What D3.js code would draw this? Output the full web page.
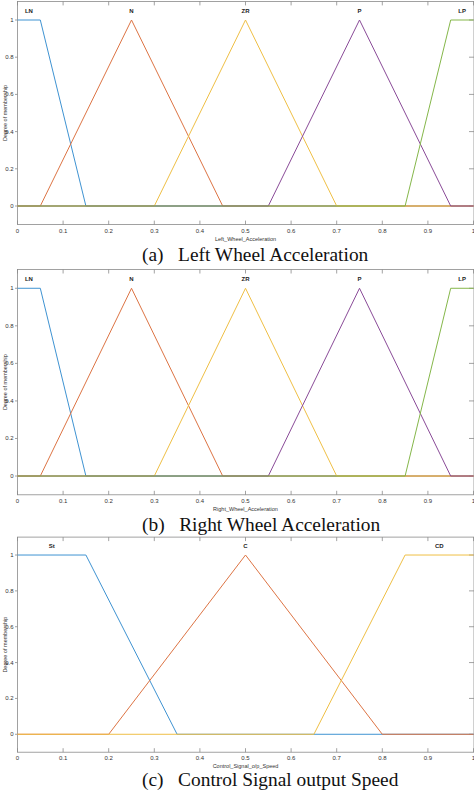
<!DOCTYPE html>
<html>
<head>
<meta charset="utf-8">
<script src="https://cdn.jsdelivr.net/npm/d3@7"></script>
<style>
  html, body { margin: 0; padding: 0; background: #fff; }
  svg { display: block; }
  .tick-label { font-family: "Liberation Sans", Arial, sans-serif; font-size: 6px; fill: #333; }
  .mf-label { font-family: "Liberation Sans", Arial, sans-serif; font-size: 6px; font-weight: bold; fill: #222; }
  .axis-title { font-family: "Liberation Sans", Arial, sans-serif; font-size: 5.5px; fill: #333; }
  .caption { font-family: "Liberation Serif", "Times New Roman", serif; font-size: 19.4px; fill: #111; }
</style>
</head>
<body>
<script>
(function(){
    "use strict";

    // membership functions
    var accelNames = ["LN", "N", "ZR", "P", "LP"];
    var accelTypes = ["trap", "tri", "tri", "tri", "trap"];
    var accelParams = [
        [-0.05, 0, 0.05, 0.15],
        [0.05, 0.25, 0.45],
        [0.3, 0.5, 0.7],
        [0.55, 0.75, 0.95],
        [0.85, 0.95, 1, 1.05]
    ];

    var speedNames = ["St", "C", "CD"];
    var speedTypes = ["trap", "tri", "trap"];
    var speedParams = [
        [-0.05, 0, 0.15, 0.35],
        [0.2, 0.5, 0.8],
        [0.65, 0.85, 1, 1.05]
    ];

    var xTicks = [0, 0.1, 0.2, 0.3, 0.4, 0.5, 0.6, 0.7, 0.8, 0.9, 1];
    var yTicks = [0, 0.2, 0.4, 0.6, 0.8, 1];
    var xTitles = ["Left_Wheel_Acceleration", "Right_Wheel_Acceleration", "Control_Signal_o/p_Speed"];
    var captions = ["(a)\u2002 Left Wheel Acceleration", "(b)\u2002 Right Wheel Acceleration", "(c)\u2002 Control Signal output Speed"];

    var colors = ["#3f93d2", "#dd7444", "#efbf45", "#8a4b98", "#85b74a"];

    var width = 474, height = 792;

    var panels = [
        { names: accelNames, types: accelTypes, params: accelParams, top: 1.4, bottom: 224.6, capY: 261.3, title: xTitles[0], caption: captions[0] },
        { names: accelNames, types: accelTypes, params: accelParams, top: 269.5, bottom: 494.8, capY: 531, title: xTitles[1], caption: captions[1] },
        { names: speedNames, types: speedTypes, params: speedParams, top: 537.1, bottom: 752.2, capY: 786, title: xTitles[2], caption: captions[2] }
    ];

    var svg = d3.select("body").append("svg")
        .attr("width", width)
        .attr("height", height);

    var x = d3.scaleLinear().domain([0, 1]).range([17.5, 473.5]);

    function membership(type, p, v) {
        if (type === "tri") {
            if (v <= p[0] || v >= p[2]) return 0;
            return v <= p[1] ? (v - p[0]) / (p[1] - p[0]) : (p[2] - v) / (p[2] - p[1]);
        }
        if (v <= p[0] || v >= p[3]) return 0;
        if (v < p[1]) return (v - p[0]) / (p[1] - p[0]);
        if (v <= p[2]) return 1;
        return (p[3] - v) / (p[3] - p[2]);
    }

    // vertices: the ends of the range plus every breakpoint inside it
    function vertices(type, p) {
        var xs = [0].concat(p.filter(function(d) { return d > 0 && d < 1; })).concat([1]);
        return xs.map(function(v) { return [v, membership(type, p, v)]; });
    }

    function labelX(type, p) {
        if (type === "tri") return p[1];
        return (Math.max(p[1], 0) + Math.min(p[2], 1)) / 2;
    }

    panels.forEach(function(panel) {
        var y = d3.scaleLinear().domain([-0.1, 1.1]).range([panel.bottom, panel.top]);
        var g = svg.append("g");
        var x0 = x.range()[0], x1 = 474;

        // box
        g.append("rect")
            .attr("x", x0)
            .attr("y", panel.top)
            .attr("width", x1 - x0)
            .attr("height", panel.bottom - panel.top)
            .attr("fill", "#fff")
            .attr("stroke", "#8a8a8a")
            .attr("stroke-width", 0.8);

        // ticks on all four sides
        g.selectAll(".xb").data(xTicks).enter().append("line")
            .attr("x1", function(d) { return x(d); }).attr("x2", function(d) { return x(d); })
            .attr("y1", panel.bottom).attr("y2", panel.bottom - 4)
            .attr("stroke", "#8a8a8a").attr("stroke-width", 0.8);
        g.selectAll(".xt").data(xTicks).enter().append("line")
            .attr("x1", function(d) { return x(d); }).attr("x2", function(d) { return x(d); })
            .attr("y1", panel.top).attr("y2", panel.top + 4)
            .attr("stroke", "#8a8a8a").attr("stroke-width", 0.8);
        g.selectAll(".yl").data(yTicks).enter().append("line")
            .attr("x1", x0 - 2.5).attr("x2", x0)
            .attr("y1", function(d) { return y(d); }).attr("y2", function(d) { return y(d); })
            .attr("stroke", "#8a8a8a").attr("stroke-width", 0.8);
        g.selectAll(".yr").data(yTicks).enter().append("line")
            .attr("x1", x1 - 5).attr("x2", x1)
            .attr("y1", function(d) { return y(d); }).attr("y2", function(d) { return y(d); })
            .attr("stroke", "#8a8a8a").attr("stroke-width", 0.8);

        // tick labels
        g.selectAll(".xl").data(xTicks).enter().append("text")
            .attr("class", "tick-label")
            .attr("x", function(d) { return x(d); })
            .attr("y", panel.bottom + 8)
            .attr("text-anchor", "middle")
            .text(function(d) { return d3.format("")(d); });
        g.selectAll(".yt").data(yTicks).enter().append("text")
            .attr("class", "tick-label")
            .attr("x", x0 - 4)
            .attr("y", function(d) { return y(d) + 2; })
            .attr("text-anchor", "end")
            .text(function(d) { return d3.format("")(d); });

        // axis titles
        g.append("text")
            .attr("class", "axis-title")
            .attr("x", x(0.5))
            .attr("y", panel.bottom + 16)
            .attr("text-anchor", "middle")
            .text(panel.title);
        g.append("text")
            .attr("class", "axis-title")
            .attr("transform", "translate(7," + y(0.5) + ") rotate(-90)")
            .attr("text-anchor", "middle")
            .text("Degree of membership");

        // membership curves
        var line = d3.line()
            .x(function(d) { return x(d[0]); })
            .y(function(d) { return y(d[1]); });

        panel.params.forEach(function(p, i) {
            g.append("path")
                .attr("d", line(vertices(panel.types[i], p)))
                .attr("fill", "none")
                .attr("stroke", colors[i])
                .attr("stroke-width", 1);
        });

        g.selectAll(".mf").data(panel.names).enter().append("text")
            .attr("class", "mf-label")
            .attr("x", function(d, i) { return x(labelX(panel.types[i], panel.params[i])); })
            .attr("y", y(1.05) + 2)
            .attr("text-anchor", "middle")
            .text(function(d) { return d; });

        // caption, left aligned like the original figure
        svg.append("text")
            .attr("class", "caption")
            .attr("x", 142)
            .attr("y", panel.capY)
            .attr("text-anchor", "start")
            .text(panel.caption);
    });
})();
</script>
</body>
</html>
